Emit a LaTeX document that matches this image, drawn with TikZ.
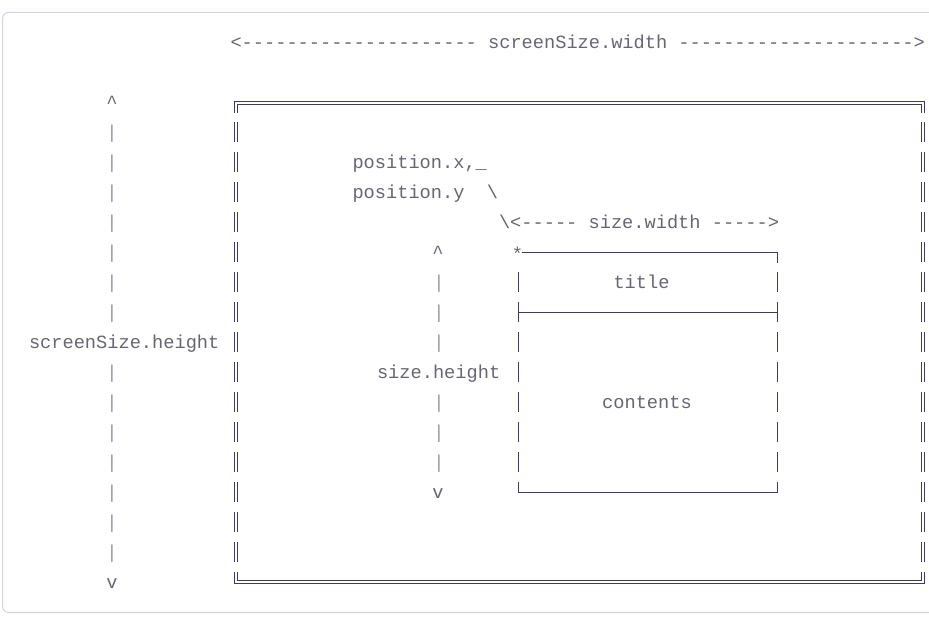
\documentclass[tikz,border=0pt]{standalone}
\usepackage{fontspec}
\setmonofont{Liberation Mono}
\usepackage{tikz}
\definecolor{textgray}{HTML}{666670}
\definecolor{bargray}{HTML}{9A9AA6}
\definecolor{boxline}{HTML}{3C3C5E}
\definecolor{framegray}{HTML}{D4D4E0}
\tikzstyle{ascii} = [font=\ttfamily\fontsize{14}{16}\selectfont, text=textgray, inner sep=0pt, outer sep=0pt]
\tikzstyle{label} = [ascii, anchor=base west]
\tikzstyle{glyph} = [ascii, anchor=base]
\tikzstyle{bar} = [ascii, anchor=base, text=bargray]
\tikzstyle{screenline} = [draw=boxline, line width=0.75pt, double=white, double distance=1.9pt]
\tikzstyle{windowline} = [draw=boxline, line width=0.75pt]

\begin{document}
\begin{tikzpicture}[x=0.75pt, y=-0.75pt]

		\useasboundingbox (0,0) rectangle (929,620);
		\clip (0,0) rectangle (929,620);
		\draw [framegray, line width=0.75pt, rounded corners=4.5pt] (2.5,12.5) rectangle (950,612.5);

		% labels
		\node (screenwidth) [label] at (230.5,48.5) {<--------------------- screenSize.width --------------------->};
		\node (posx) [label] at (352.5,168.5) {position.x,\_};
		\node (posy) [label] at (352.5,198.5) {position.y\ \ \textbackslash};
		\node (sizewidth) [label] at (499,228.5) {\textbackslash<----- size.width ----->};
		\node (screenheight) [label] at (29,348.5) {screenSize.height};
		\node (sizeheight) [label] at (377,378.5) {size.height};
		\node (title) [glyph] at (641.5,288.5) {title};
		\node (contents) [glyph] at (647,408.5) {contents};
		\node (corner) [glyph] at (517.5,261) {*};

		% screenSize.height arrow
		\node (screentop) [glyph] at (112,109) {\textasciicircum};
		\node (screenbottom) [glyph] at (112,588.5) {v};
		\foreach \y in {132,162,...,312,372,402,...,552}
			\node [bar] at (112,\y+6.5) {|};

		% size.height arrow
		\node (sizetop) [glyph] at (438,259) {\textasciicircum};
		\node (sizebottom) [glyph] at (438,498.5) {v};
		\foreach \y in {282,312,342,402,432,462}
			\node [bar] at (439,\y+6.5) {|};

		% screen
		\draw [screenline] (236,113) -- (236,103) -- (923,103) -- (923,113);
		\draw [screenline] (236,572) -- (236,582) -- (923,582) -- (923,572);
		\foreach \y in {132,162,...,552} {
			\draw [screenline] (236,\y-10) -- (236,\y+10);
			\draw [screenline] (923,\y-10) -- (923,\y+10);
		}

		% window
		\draw [windowline] (522,252.3) -- (777,252.3) -- (777,263);
		\draw [windowline] (518,302) -- (518,322);
		\draw [windowline] (777,302) -- (777,322);
		\draw [windowline] (518,312.5) -- (777,312.5);
		\draw [windowline] (518,482) -- (518,492.3) -- (777,492.3) -- (777,482);
		\foreach \y in {282,342,372,402,432,462} {
			\draw [windowline] (518,\y-10) -- (518,\y+10);
			\draw [windowline] (777,\y-10) -- (777,\y+10);
		}

\end{tikzpicture}
\end{document}
